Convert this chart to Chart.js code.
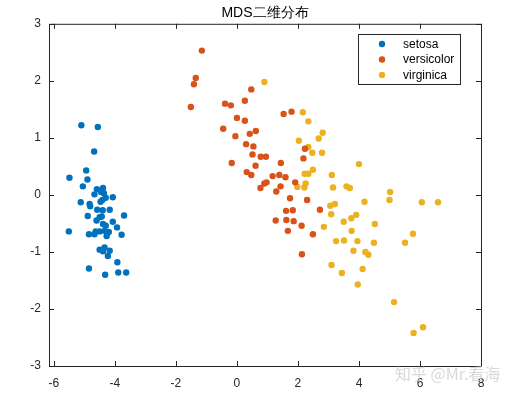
<!DOCTYPE html>
<html>
<head>
<meta charset="utf-8">
<script src="https://cdn.jsdelivr.net/npm/chart.js@4.4.0/dist/chart.umd.min.js"></script>
<style>
  html, body { margin: 0; padding: 0; background: #fff; }
  #wrap { width: 513px; height: 397px; }
</style>
</head>
<body>
<div id="wrap"><canvas id="chart"></canvas></div>
<script>
// data (MDS 2D, iris)
const seriesNames = ['setosa', 'versicolor', 'virginica']
const seriesColors = ['#0072BD', '#D95319', '#EDB120']

const setosaX = [-5.10, -4.56, -4.68, -4.94, -5.49, -4.90, -5.05, -4.59, -4.39, -4.67, -4.36, -4.30, -4.07, -4.41, -4.47, -5.12, -4.83, -4.81, -4.58, -4.17, -3.70, -4.89, -4.50, -4.43, -4.07, -4.39, -4.30, -3.93, -5.51, -4.63, -4.50, -4.34, -4.85, -4.67, -4.27, -3.78, -4.50, -4.34, -4.39, -4.17, -4.23, -3.92, -4.85, -4.32, -3.89, -3.63, -4.45, -4.20, -4.60, -4.40]
const setosaY = [1.22, 1.19, 0.76, 0.43, 0.30, 0.27, 0.15, 0.10, 0.12, 0.01, 0.03, -0.05, -0.04, -0.09, -0.12, -0.13, -0.16, -0.20, -0.26, -0.26, -0.36, -0.37, -0.39, -0.38, -0.47, -0.51, -0.54, -0.57, -0.64, -0.64, -0.64, -0.63, -0.69, -0.69, -0.72, -0.70, -0.96, -0.92, -0.99, -0.98, -1.07, -1.18, -1.29, -1.40, -1.36, -1.36, 0.05, -0.65, -0.45, -0.27]

const versicolorX = [-1.15, -1.35, -1.41, -1.51, 0.47, 0.26, -0.39, -0.20, 0.00, 0.26, -0.45, -0.05, 0.42, 0.62, 0.30, 0.54, 1.53, 1.79, 2.23, 0.51, 0.78, 0.95, 2.18, -0.17, 0.61, 1.44, 0.32, 0.47, 1.17, 1.39, 1.59, 0.97, 0.90, 0.77, 1.29, 1.43, 1.91, 1.74, 2.30, 1.61, 1.83, 2.72, 1.27, 1.62, 1.86, 2.12, 1.67, 2.49, 2.13]
const versicolorY = [2.53, 2.05, 1.94, 1.54, 1.85, 1.65, 1.60, 1.57, 1.35, 1.30, 1.16, 1.03, 1.07, 1.12, 0.89, 0.85, 1.42, 1.46, 0.81, 0.71, 0.67, 0.67, 0.64, 0.56, 0.51, 0.56, 0.40, 0.35, 0.33, 0.35, 0.31, 0.22, 0.20, 0.12, 0.06, 0.15, 0.22, -0.06, -0.09, -0.28, -0.27, -0.26, -0.45, -0.44, -0.46, -0.54, -0.63, -0.69, -1.04]

const virginicaX = [0.90, 2.16, 2.34, 2.81, 2.68, 2.03, 2.34, 2.79, 2.47, 2.25, 1.98, 2.21, 2.22, 2.34, 2.49, 2.85, 4.00, 3.11, 3.15, 3.59, 3.70, 5.02, 5.00, 4.18, 6.06, 6.59, 3.06, 3.21, 3.09, 3.91, 3.75, 3.50, 4.52, 3.76, 5.77, 5.51, 3.25, 3.51, 3.95, 4.49, 3.82, 4.21, 4.31, 3.10, 4.12, 3.44, 3.96, 5.15, 6.10, 5.79]
const virginicaY = [1.98, 1.45, 1.29, 1.09, 0.99, 0.95, 0.84, 0.74, 0.74, 0.20, 0.14, 0.13, 0.37, 0.37, 0.44, -0.56, 0.54, 0.35, 0.13, 0.15, 0.12, 0.05, -0.09, -0.12, -0.13, -0.13, -0.19, -0.16, -0.34, -0.35, -0.41, -0.47, -0.51, -0.63, -0.68, -0.84, -0.81, -0.80, -0.81, -0.84, -0.98, -1.00, -1.05, -1.23, -1.30, -1.37, -1.57, -1.88, -2.32, -2.42]

const xTicks = [-6, -4, -2, 0, 2, 4, 6, 8]
const yTicks = [-3, -2, -1, 0, 1, 2, 3]

const axisColor = '#262626'
const fontFamily = '"Liberation Sans", Arial, sans-serif'

function toPoints(xs, ys) {
  return xs.map((x, i) => ({ x: x, y: ys[i] }))
}

const allX = [setosaX, versicolorX, virginicaX]
const allY = [setosaY, versicolorY, virginicaY]

const datasets = seriesNames.map((name, i) => ({
  label: name,
  data: toPoints(allX[i], allY[i]),
  backgroundColor: seriesColors[i],
  borderColor: seriesColors[i],
  borderWidth: 0,
  pointRadius: 3.2,
  pointHoverRadius: 3.2
}))

// kotak sumbu + tick ke dalam, gaya MATLAB
const boxPlugin = {
  id: 'boxPlugin',
  afterDatasetsDraw(chart) {
    const { ctx, chartArea, scales } = chart
    const { left, right, top, bottom } = chartArea
    const tl = 5
    ctx.save()
    ctx.strokeStyle = axisColor
    ctx.lineWidth = 1
    ctx.beginPath()
    ctx.rect(left + 0.5, top + 0.5, right - left, bottom - top)
    xTicks.forEach(v => {
      const px = Math.round(scales.x.getPixelForValue(v)) + 0.5
      ctx.moveTo(px, bottom); ctx.lineTo(px, bottom - tl)
      ctx.moveTo(px, top); ctx.lineTo(px, top + tl)
    })
    yTicks.forEach(v => {
      const py = Math.round(scales.y.getPixelForValue(v)) + 0.5
      ctx.moveTo(left, py); ctx.lineTo(left + tl, py)
      ctx.moveTo(right, py); ctx.lineTo(right - tl, py)
    })
    ctx.stroke()
    ctx.restore()
  }
}

// legenda di pojok kanan atas
const legendPlugin = {
  id: 'legendPlugin',
  afterDraw(chart) {
    const { ctx } = chart
    const bx = 358, by = 34, bw = 102, bh = 50
    ctx.save()
    ctx.fillStyle = '#fff'
    ctx.fillRect(bx, by, bw, bh)
    ctx.strokeStyle = axisColor
    ctx.lineWidth = 1
    ctx.strokeRect(bx + 0.5, by + 0.5, bw, bh)
    ctx.font = '12px ' + fontFamily
    ctx.textBaseline = 'middle'
    seriesNames.forEach((name, i) => {
      const ry = by + 10 + i * 15.5
      ctx.fillStyle = seriesColors[i]
      ctx.beginPath()
      ctx.arc(bx + 24, ry, 3.2, 0, Math.PI * 2)
      ctx.fill()
      ctx.fillStyle = '#000'
      ctx.fillText(name, bx + 45, ry + 0.5)
    })
    ctx.restore()
  }
}

// watermark
const markPlugin = {
  id: 'markPlugin',
  afterDraw(chart) {
    const { ctx } = chart
    ctx.save()
    ctx.font = '16px "Noto Sans CJK SC", sans-serif'
    ctx.fillStyle = 'rgba(200,200,200,0.7)'
    ctx.textBaseline = 'middle'
    ctx.fillText('知乎 @Mr.看海', 395, 374)
    ctx.restore()
  }
}

new Chart(document.getElementById('chart'), {
  type: 'scatter',
  data: { datasets: datasets },
  options: {
    responsive: true,
    maintainAspectRatio: false,
    animation: false,
    layout: { padding: { left: 0, right: 32, top: 0, bottom: 0 } },
    plugins: {
      legend: { display: false },
      tooltip: { enabled: false },
      title: {
        display: true,
        text: 'MDS二维分布',
        fullSize: false,
        color: '#000',
        font: { family: fontFamily, size: 14, weight: 'normal' },
        padding: { top: 5, bottom: 2 }
      }
    },
    scales: {
      x: {
        type: 'linear',
        min: -6.16,
        max: 8,
        afterBuildTicks: scale => { scale.ticks = xTicks.map(v => ({ value: v })) },
        afterFit: scale => { scale.height = 31 },
        grid: { display: false },
        border: { display: false },
        ticks: { color: axisColor, padding: 2, font: { family: fontFamily, size: 12 } }
      },
      y: {
        type: 'linear',
        min: -3,
        max: 3,
        afterBuildTicks: scale => { scale.ticks = yTicks.map(v => ({ value: v })) },
        afterFit: scale => { scale.width = 49 },
        grid: { display: false },
        border: { display: false },
        ticks: { color: axisColor, padding: 0, font: { family: fontFamily, size: 12 } }
      }
    }
  },
  plugins: [boxPlugin, legendPlugin, markPlugin]
})
</script>
</body>
</html>
